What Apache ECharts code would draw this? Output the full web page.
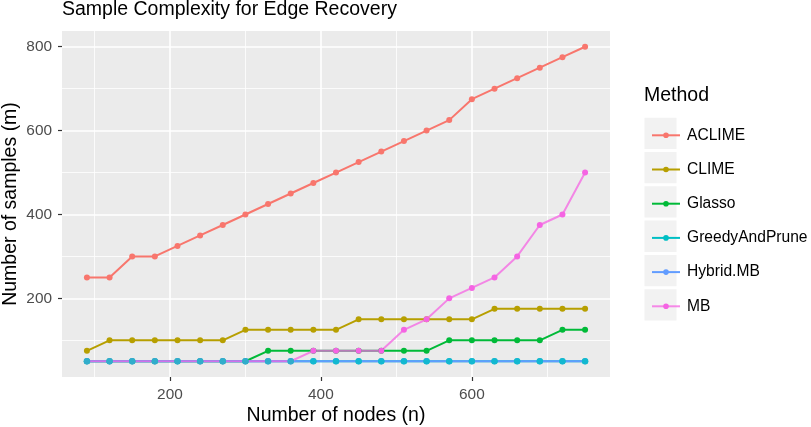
<!DOCTYPE html>
<html>
<head>
<meta charset="utf-8">
<script src="https://cdn.jsdelivr.net/npm/echarts@6/dist/echarts.min.js"></script>
<style>html,body{margin:0;padding:0;background:#fff;}#c{width:811px;height:427px;}</style>
</head>
<body>
<div id="c"></div>
<script>
const nodes = [90,120,150,180,210,240,270,300,330,360,390,420,450,480,510,540,570,600,630,660,690,720,750];
const aclime = [250,250,300,300,325,350,375,400,425,450,475,500,525,550,575,600,625,675,700,725,750,775,800];
const clime  = [75,100,100,100,100,100,100,125,125,125,125,125,150,150,150,150,150,150,175,175,175,175,175];
const glasso = [50,50,50,50,50,50,50,50,75,75,75,75,75,75,75,75,100,100,100,100,100,125,125];
const greedy = [50,50,50,50,50,50,50,50,50,50,50,50,50,50,50,50,50,50,50,50,50,50,50];
const hybrid = [50,50,50,50,50,50,50,50,50,50,50,50,50,50,50,50,50,50,50,50,50,50,50];
const mb     = [50,50,50,50,50,50,50,50,50,50,75,75,75,75,125,150,200,225,250,300,375,400,500];
const methods = ['ACLIME','CLIME','Glasso','GreedyAndPrune','Hybrid.MB','MB'];
const xTicks = [200,400,600];
const yTicks = [200,400,600,800];
const xMinor = [100,300,500,700];
const yMinor = [100,300,500,700];

const colors = {ACLIME:'#F8766D',CLIME:'#B79F00',Glasso:'#00BA38',GreedyAndPrune:'#00BFC4','Hybrid.MB':'#619CFF',MB:'#F564E3'};
const values = {ACLIME:aclime,CLIME:clime,Glasso:glasso,GreedyAndPrune:greedy,'Hybrid.MB':hybrid,MB:mb};
const lineOpacity = {ACLIME:1,CLIME:1,Glasso:1,GreedyAndPrune:1,'Hybrid.MB':1,MB:0.75};
const pts = arr => nodes.map((n,i)=>[n,arr[i]]);

const gridLines = [];
yMinor.forEach(v=>gridLines.push({yAxis:v,lineStyle:{color:'#fff',width:0.8,type:'solid'}}));
xMinor.forEach(v=>gridLines.push({xAxis:v,lineStyle:{color:'#fff',width:0.8,type:'solid'}}));
yTicks.forEach(v=>gridLines.push({yAxis:v,lineStyle:{color:'#fff',width:1.6,type:'solid'}}));
xTicks.forEach(v=>gridLines.push({xAxis:v,lineStyle:{color:'#fff',width:1.6,type:'solid'}}));

const series = [{
  name:'_grid', type:'line', data:[], z:0, silent:true,
  markLine:{silent:true,z:0,symbol:['none','none'],label:{show:false},animation:false,data:gridLines}
}];
methods.forEach(m=>{
  series.push({
    name:m, type:'line', data:pts(values[m]), z:2,
    symbol:'circle', symbolSize:6, showAllSymbol:true,
    lineStyle:{color:colors[m],width:2,opacity:lineOpacity[m]},
    itemStyle:{color:colors[m]}
  });
});
series.push({
  name:'GreedyAndPrune', type:'scatter', data:pts(greedy), z:5,
  symbol:'circle', symbolSize:6.5, itemStyle:{color:colors.GreedyAndPrune}
});

const labelFont = {fontFamily:'Liberation Sans',fontSize:15.4,color:'#4D4D4D'};
const chart = echarts.init(document.getElementById('c'),null,{renderer:'canvas'});
chart.setOption({
  animation:false,
  backgroundColor:'#fff',
  grid:{left:62,right:201,top:31,bottom:50,show:true,backgroundColor:'#EBEBEB',borderWidth:0},
  xAxis:{type:'value',min:57,max:783,
    axisLine:{show:false},
    axisTick:{show:true,length:4,lineStyle:{color:'#333',width:1.2},customValues:xTicks},
    axisLabel:Object.assign({margin:10,customValues:xTicks},labelFont),
    splitLine:{show:false}},
  yAxis:{type:'value',min:12.5,max:837.5,
    axisLine:{show:false},
    axisTick:{show:true,length:4,lineStyle:{color:'#333',width:1.2},customValues:yTicks},
    axisLabel:Object.assign({margin:10,customValues:yTicks},labelFont),
    splitLine:{show:false}},
  legend:{data:methods,orient:'vertical',left:646,top:122.3,itemWidth:28,itemHeight:7,itemGap:18.2,
    textStyle:{fontFamily:'Liberation Sans',fontSize:15.6,color:'#000',padding:[0,0,0,2]}},
  graphic:[
    ...methods.map((m,i)=>({type:'rect',left:644.5,top:117.7+i*34.3,shape:{width:32,height:31.3},style:{fill:'#F2F2F2'},z:-1,silent:true})),
    {type:'text',left:62,top:0,style:{text:'Sample Complexity for Edge Recovery',fontFamily:'Liberation Sans',fontSize:19.5,fill:'#000'}},
    {type:'text',left:644,top:86,style:{text:'Method',fontFamily:'Liberation Sans',fontSize:19.5,fill:'#000'}},
    {type:'text',x:336,y:416,style:{text:'Number of nodes (n)',fontFamily:'Liberation Sans',fontSize:19.5,fill:'#000',align:'center',verticalAlign:'middle'}},
    {type:'text',x:11,y:204,rotation:Math.PI/2,style:{text:'Number of samples (m)',fontFamily:'Liberation Sans',fontSize:19.5,fill:'#000',align:'center',verticalAlign:'middle'}}
  ],
  series:series
});
</script>
</body>
</html>
